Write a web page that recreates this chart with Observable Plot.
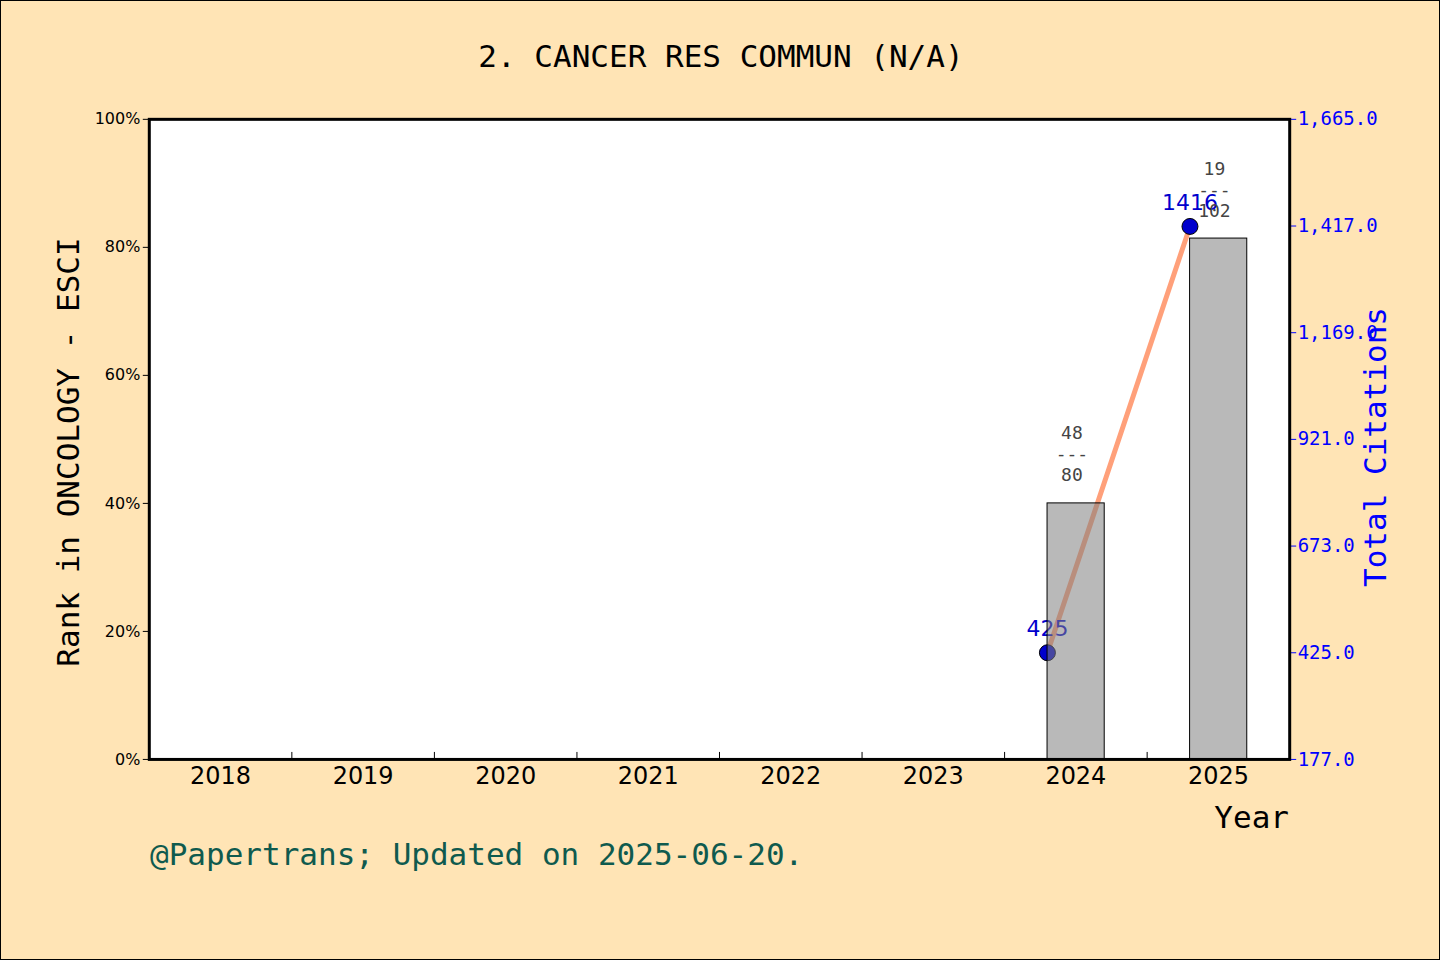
<!DOCTYPE html>
<html>
<head>
<meta charset="utf-8">
<script src="https://cdn.jsdelivr.net/npm/d3@7"></script>
<script src="https://cdn.jsdelivr.net/npm/@observablehq/plot@0.6"></script>
<style>
  html, body { margin: 0; padding: 0; background: #FFE4B5; }
  #wrap { position: relative; width: 1440px; height: 960px; box-sizing: border-box; border: 1px solid #000; background: #FFE4B5; overflow: hidden; }
  #wrap svg { position: absolute; left: -1px; top: -1px; }
  .lbl { position: absolute; font-family: "DejaVu Sans Mono", monospace; white-space: nowrap; }
</style>
</head>
<body>
<div id="wrap">
  <div class="lbl" id="title" style="left:0;width:1440px;text-align:center;top:37px;font-size:31px;color:#000;">2. CANCER RES COMMUN (N/A)</div>
  <div class="lbl" id="ylab" style="left:67px;top:451px;font-size:31px;color:#000;transform:translate(-50%,-50%) rotate(-90deg);">Rank in ONCOLOGY - ESCI</div>
  <div class="lbl" id="y2lab" style="left:1374px;top:446px;font-size:31px;color:#0000FF;transform:translate(-50%,-50%) rotate(-90deg);">Total Citations</div>
  <div class="lbl" id="xlab" style="right:150px;top:798px;font-size:31px;color:#000;">Year</div>
  <div class="lbl" id="caption" style="left:149px;top:835px;font-size:31px;color:#0F5A4E;">@Papertrans; Updated on 2025-06-20.</div>
</div>
<script>
// ---- data ----
const years = [2018, 2019, 2020, 2021, 2022, 2023, 2024, 2025];
const rankPosition = [null, null, null, null, null, null, 48, 19];
const rankTotal = [null, null, null, null, null, null, 80, 102];
const totalCitations = [null, null, null, null, null, null, 425, 1416];
const leftTicks = [0, 0.2, 0.4, 0.6, 0.8, 1.0];
const rightTicks = [177, 425, 673, 921, 1169, 1417, 1665];
const boundaryTicks = [2018.5, 2019.5, 2020.5, 2021.5, 2022.5, 2023.5, 2024.5];

// ---- derived ----
const cMin = rightTicks[0], cMax = rightTicks[rightTicks.length - 1];
const toFrac = c => (c - cMin) / (cMax - cMin);
const rows = years.map((year, i) => ({
  year,
  pos: rankPosition[i],
  total: rankTotal[i],
  cites: totalCitations[i]
})).filter(d => d.pos != null);

const fmtRight = d3.format(",.1f");
const rightMap = new Map(rightTicks.map(t => [toFrac(t).toFixed(6), fmtRight(t)]));

const barShift = -28.5;

const plot = Plot.plot({
  width: 1440,
  height: 960,
  marginLeft: 149,
  marginRight: 149,
  marginTop: 119,
  marginBottom: 200,
  style: { background: "transparent", fontFamily: "DejaVu Sans", overflow: "visible" },
  x: { type: "linear", domain: [2017.5, 2025.5] },
  y: { domain: [0, 1] },
  marks: [
    Plot.frame({ fill: "white", stroke: null }),
    // citation line
    Plot.line(rows, { x: "year", y: d => toFrac(d.cites), dx: barShift, stroke: "#FFA07A", strokeWidth: 5 }),
    Plot.dot(rows, { x: "year", y: d => toFrac(d.cites), dx: barShift, r: 8, fill: "#0000CD", stroke: "black", strokeWidth: 1 }),
    Plot.text(rows, { x: "year", y: d => toFrac(d.cites), dx: barShift, dy: -24, text: d => String(d.cites), fill: "#0000CD", fontSize: 22 }),
    // rank bars
    Plot.rectY(rows, { x1: d => d.year - 0.5, x2: d => d.year + 0.5, y1: 0, y2: d => 1 - d.pos / d.total, insetLeft: 43, insetRight: 42.5, fill: "#7F7F7F", fillOpacity: 0.55, stroke: "black", strokeWidth: 1 }),
    Plot.text(rows, { x: "year", y: d => 1 - d.pos / d.total, text: d => `${d.pos}\n---\n${d.total}`, lineAnchor: "bottom", lineHeight: 1.17, dy: -22, dx: -4, fill: "#444", fontSize: 18, fontFamily: "DejaVu Sans Mono" }),
    // axes
    Plot.axisY({ ticks: leftTicks, tickFormat: d3.format(".0%"), tickSize: 6, tickPadding: 3, fontSize: 16, label: null, color: "black" }),
    Plot.axisY({ anchor: "right", ticks: rightTicks.map(toFrac), tickFormat: d => rightMap.get(d.toFixed(6)), tickSize: 6, tickPadding: 2, fontSize: 19, fontFamily: "DejaVu Sans Mono", label: null, color: "#0000FF" }),
    Plot.axisX({ ticks: years, tickFormat: d => String(d), tickSize: 0, tickPadding: 8, fontSize: 24, label: null, color: "black" }),
    Plot.axisX({ ticks: boundaryTicks, tickFormat: () => "", tickSize: 7, dy: -7, label: null, color: "black" }),
    Plot.frame({ stroke: "black", strokeWidth: 3 })
  ]
});

document.getElementById("wrap").appendChild(plot);
</script>
</body>
</html>
